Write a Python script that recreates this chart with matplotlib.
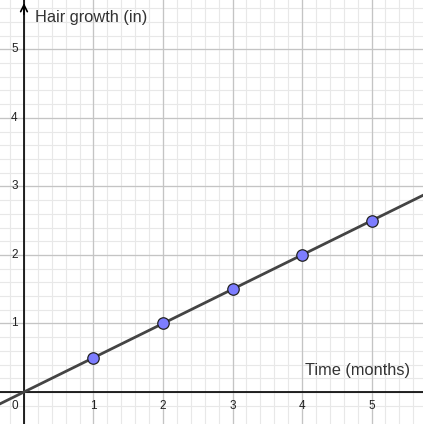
import matplotlib
matplotlib.use("Agg")
import matplotlib.pyplot as plt
import numpy as np

plt.rcParams["font.family"] = ["Liberation Sans", "DejaVu Sans"]

months = [1, 2, 3, 4, 5]
growth = [0.5, 1.0, 1.5, 2.0, 2.5]
x_ticks = [1, 2, 3, 4, 5]
y_ticks = [1, 2, 3, 4, 5]
slope = 0.5

xmin, xmax = -0.345, 5.74
ymin, ymax = -0.467, 5.72

fig = plt.figure(figsize=(4.23, 4.24), dpi=100)
ax = fig.add_axes([0, 0, 1, 1])
ax.set_xlim(xmin, xmax)
ax.set_ylim(ymin, ymax)
ax.axis("off")

# grid
for v in np.arange(-0.2, 6.0, 0.2):
    ax.axvline(v, color="#e8e8e8", lw=0.8, zorder=0)
    ax.axhline(v, color="#e8e8e8", lw=0.8, zorder=0)
for v in range(0, 6):
    ax.axvline(v, color="#c4c4c4", lw=0.9, zorder=0.5)
    ax.axhline(v, color="#c4c4c4", lw=0.9, zorder=0.5)

# axes
ax.axhline(0, color="black", lw=1.2, zorder=1)
ax.plot([0, 0], [ymin, ymax], color="black", lw=1.2, zorder=1)
ax.annotate("", xy=(0, ymax - 0.005), xytext=(0, ymax - 0.25),
            arrowprops=dict(arrowstyle="->", color="black", lw=1.2,
                            mutation_scale=12), zorder=2)

# tick labels
for t in x_ticks:
    ax.text(t, -0.12, str(t), ha="center", va="top", fontsize=8.5, color="#222222")
for t in y_ticks:
    ax.text(-0.09, t, str(t), ha="right", va="center", fontsize=8.5, color="#222222")
ax.text(-0.09, -0.12, "0", ha="right", va="top", fontsize=8.5, color="#222222")

# line
xs = np.array([xmin, xmax])
ax.plot(xs, slope * xs, color="#444444", lw=2, zorder=3)
ax.scatter(months, growth, s=68, color="#7d7dff", edgecolor="#222222",
           linewidths=0.9, zorder=4)

# axis titles
ax.text(0.155, 5.47, "Hair growth (in)", ha="left", va="center", fontsize=11.8, color="#333333")
ax.text(4.04, 0.31, "Time (months)", ha="left", va="center", fontsize=11.8, color="#333333")

fig.savefig("out.png", dpi=100)
